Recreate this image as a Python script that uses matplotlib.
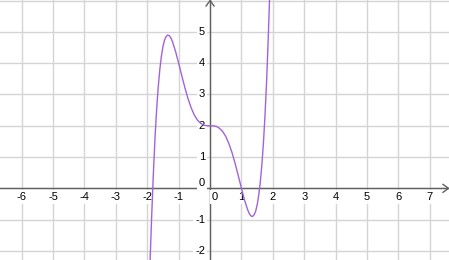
import matplotlib
matplotlib.use("Agg")
import matplotlib.pyplot as plt

plt.rcParams["font.family"] = ["Liberation Sans", "DejaVu Sans"]

# points
curve_x = [-1.92, -1.86, -1.80, -1.75, -1.70, -1.65, -1.60, -1.55, -1.50, -1.45,
           -1.40, -1.35, -1.30, -1.25, -1.20, -1.10, -1.00, -0.90, -0.80, -0.70,
           -0.60, -0.50, -0.40, -0.30, -0.20, -0.10, 0.00, 0.10, 0.20, 0.30,
           0.40, 0.50, 0.60, 0.70, 0.80, 0.90, 1.00, 1.10, 1.20, 1.25,
           1.30, 1.35, 1.40, 1.45, 1.50, 1.55, 1.60, 1.65, 1.70, 1.75,
           1.80, 1.85, 1.90]
curve_y = [-2.60, -0.90, 0.60, 1.67, 2.54, 3.25, 3.80, 4.22, 4.53, 4.74,
           4.85, 4.90, 4.88, 4.81, 4.70, 4.38, 4.00, 3.60, 3.21, 2.86,
           2.57, 2.34, 2.18, 2.08, 2.02, 2.00, 2.00, 2.00, 1.98, 1.92,
           1.82, 1.66, 1.43, 1.14, 0.79, 0.40, 0.00, -0.38, -0.69, -0.81,
           -0.88, -0.90, -0.85, -0.74, -0.53, -0.22, 0.20, 0.75, 1.46, 2.33,
           3.40, 4.70, 6.20]

x_ticks = [-6, -5, -4, -3, -2, -1, 0, 1, 2, 3, 4, 5, 6, 7]
y_ticks = [-2, -1, 1, 2, 3, 4, 5]

fig = plt.figure(figsize=(4.49, 2.60), dpi=100)
ax = fig.add_axes([0, 0, 1, 1])
xmin, xmax = -6.69, 7.61
ymin, ymax = -2.29, 6.02
ax.set_xlim(xmin, xmax)
ax.set_ylim(ymin, ymax)
ax.axis("off")

grid_c = "#d4d4d4"
for gx in range(-6, 8):
    ax.axvline(gx, color=grid_c, lw=1, zorder=0)
for gy in range(-2, 7):
    ax.axhline(gy, color=grid_c, lw=1, zorder=0)

axis_c = "#606060"
ax.axhline(0, color=axis_c, lw=1, zorder=1)
ax.axvline(0, color=axis_c, lw=1, zorder=1)

# arrow heads at axis ends
dx = (xmax - xmin) / 449
dy = (ymax - ymin) / 260
ax.plot([xmax - 6 * dx, xmax - 0.5 * dx, xmax - 6 * dx], [4 * dy, 0, -4 * dy],
        color=axis_c, lw=1, zorder=1, solid_joinstyle="miter")
ax.plot([-4 * dx, 0, 4 * dx], [ymax - 6 * dy, ymax - 0.5 * dy, ymax - 6 * dy],
        color=axis_c, lw=1, zorder=1, solid_joinstyle="miter")

box = dict(facecolor="white", edgecolor="none", pad=1.5)
for t in x_ticks:
    if t == 0:
        ax.text(5 * dx, -4 * dy, "0", ha="center", va="top", fontsize=8, zorder=2, bbox=box)
        continue
    ax.text(t, -4 * dy, str(t), ha="center", va="top", fontsize=8, zorder=2, bbox=box)
for t in y_ticks:
    ax.text(-5 * dx, t, str(t), ha="right", va="center", fontsize=8, zorder=2, bbox=box)
ax.text(-5 * dx, 5 * dy, "0", ha="right", va="center", fontsize=8, zorder=2, bbox=box)

ax.plot(curve_x, curve_y, color="#a064d8", lw=1.0, zorder=3, solid_joinstyle="round")

fig.savefig("out.png", dpi=100)
